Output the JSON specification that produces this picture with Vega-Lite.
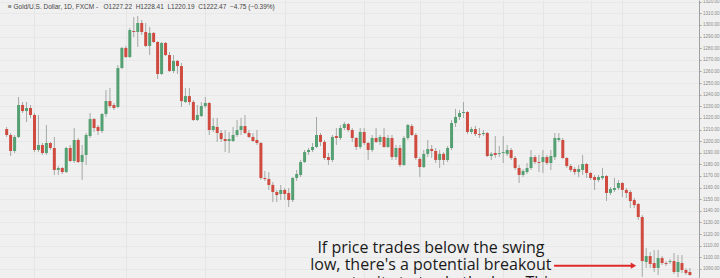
{
 "$schema": "https://vega.github.io/schema/vega-lite/v6.json",
 "width": 699,
 "height": 278,
 "autosize": {"type": "none"},
 "padding": {"left": 0, "top": 0, "right": 21, "bottom": 0},
 "background": "#f0f0f0",
 "config": {"view": {"stroke": null}, "font": "Liberation Sans"},
 "data": {"values": [
{"i":0,"o":1210.4,"h":1212.2,"l":1203.6,"c":1205.3},
{"i":1,"o":1205.3,"h":1207.0,"l":1187.2,"c":1191.5},
{"i":2,"o":1191.5,"h":1205.3,"l":1189.8,"c":1203.6},
{"i":3,"o":1203.6,"h":1238.0,"l":1202.7,"c":1231.1},
{"i":4,"o":1231.1,"h":1233.7,"l":1224.2,"c":1225.9},
{"i":5,"o":1225.9,"h":1233.7,"l":1216.5,"c":1228.5},
{"i":6,"o":1228.5,"h":1231.1,"l":1219.9,"c":1222.5},
{"i":7,"o":1222.5,"h":1224.2,"l":1190.6,"c":1192.4},
{"i":8,"o":1192.4,"h":1222.5,"l":1190.6,"c":1196.7},
{"i":9,"o":1196.7,"h":1198.4,"l":1188.1,"c":1189.8},
{"i":10,"o":1189.8,"h":1213.9,"l":1188.1,"c":1198.4},
{"i":11,"o":1198.4,"h":1199.3,"l":1192.4,"c":1194.1},
{"i":12,"o":1194.1,"h":1203.6,"l":1170.9,"c":1175.2},
{"i":13,"o":1175.2,"h":1178.6,"l":1170.9,"c":1176.9},
{"i":14,"o":1176.9,"h":1177.7,"l":1171.7,"c":1173.4},
{"i":15,"o":1173.4,"h":1195.0,"l":1172.6,"c":1194.1},
{"i":16,"o":1194.1,"h":1196.7,"l":1182.0,"c":1182.9},
{"i":17,"o":1182.9,"h":1211.3,"l":1181.2,"c":1201.0},
{"i":18,"o":1201.0,"h":1202.7,"l":1181.2,"c":1182.0},
{"i":19,"o":1182.0,"h":1196.7,"l":1166.6,"c":1188.1},
{"i":20,"o":1188.1,"h":1207.0,"l":1179.5,"c":1205.3},
{"i":21,"o":1204.4,"h":1224.2,"l":1202.7,"c":1219.0},
{"i":22,"o":1219.0,"h":1219.9,"l":1207.9,"c":1211.3},
{"i":23,"o":1212.2,"h":1213.9,"l":1205.3,"c":1208.7},
{"i":24,"o":1208.7,"h":1224.2,"l":1207.0,"c":1223.3},
{"i":25,"o":1223.3,"h":1244.0,"l":1220.8,"c":1234.5},
{"i":26,"o":1234.5,"h":1245.7,"l":1228.5,"c":1230.2},
{"i":27,"o":1231.1,"h":1232.8,"l":1226.8,"c":1228.5},
{"i":28,"o":1229.4,"h":1265.5,"l":1228.5,"c":1262.9},
{"i":29,"o":1262.9,"h":1281.0,"l":1262.1,"c":1280.2},
{"i":30,"o":1280.2,"h":1281.9,"l":1271.5,"c":1272.4},
{"i":31,"o":1272.4,"h":1297.4,"l":1271.5,"c":1295.6},
{"i":32,"o":1294.8,"h":1306.8,"l":1289.6,"c":1293.9},
{"i":33,"o":1293.9,"h":1307.7,"l":1281.0,"c":1301.7},
{"i":34,"o":1301.7,"h":1304.3,"l":1291.3,"c":1293.9},
{"i":35,"o":1293.9,"h":1301.7,"l":1281.0,"c":1281.9},
{"i":36,"o":1281.9,"h":1298.2,"l":1274.1,"c":1293.1},
{"i":37,"o":1293.1,"h":1293.9,"l":1284.5,"c":1285.3},
{"i":38,"o":1285.3,"h":1286.0,"l":1253.5,"c":1257.8},
{"i":39,"o":1257.8,"h":1285.3,"l":1257.0,"c":1284.5},
{"i":40,"o":1284.5,"h":1285.3,"l":1273.3,"c":1274.1},
{"i":41,"o":1274.1,"h":1276.7,"l":1259.5,"c":1260.4},
{"i":42,"o":1260.4,"h":1274.1,"l":1258.6,"c":1269.0},
{"i":43,"o":1269.0,"h":1269.8,"l":1257.8,"c":1264.6},
{"i":44,"o":1264.6,"h":1267.2,"l":1229.4,"c":1234.5},
{"i":45,"o":1233.7,"h":1245.7,"l":1232.8,"c":1238.8},
{"i":46,"o":1238.8,"h":1245.7,"l":1231.1,"c":1233.7},
{"i":47,"o":1233.7,"h":1235.4,"l":1217.3,"c":1218.2},
{"i":48,"o":1218.2,"h":1231.1,"l":1217.3,"c":1222.5},
{"i":49,"o":1221.6,"h":1233.7,"l":1220.8,"c":1230.2},
{"i":50,"o":1230.2,"h":1238.0,"l":1228.5,"c":1232.8},
{"i":51,"o":1232.8,"h":1233.7,"l":1205.3,"c":1209.6},
{"i":52,"o":1209.6,"h":1219.9,"l":1207.9,"c":1213.0},
{"i":53,"o":1212.2,"h":1219.9,"l":1199.3,"c":1207.0},
{"i":54,"o":1207.0,"h":1209.6,"l":1199.3,"c":1201.8},
{"i":55,"o":1201.8,"h":1209.6,"l":1190.6,"c":1200.1},
{"i":56,"o":1200.1,"h":1207.9,"l":1189.8,"c":1201.8},
{"i":57,"o":1200.1,"h":1212.2,"l":1199.3,"c":1205.3},
{"i":58,"o":1205.3,"h":1218.2,"l":1203.6,"c":1209.6},
{"i":59,"o":1209.6,"h":1219.9,"l":1205.3,"c":1213.0},
{"i":60,"o":1213.0,"h":1222.5,"l":1206.1,"c":1207.0},
{"i":61,"o":1207.0,"h":1209.6,"l":1202.7,"c":1203.6},
{"i":62,"o":1203.6,"h":1207.0,"l":1199.3,"c":1200.1},
{"i":63,"o":1201.0,"h":1209.6,"l":1196.7,"c":1198.4},
{"i":64,"o":1198.4,"h":1199.3,"l":1166.6,"c":1168.3},
{"i":65,"o":1168.3,"h":1174.3,"l":1165.7,"c":1167.4},
{"i":66,"o":1167.4,"h":1173.4,"l":1158.0,"c":1162.3},
{"i":67,"o":1162.3,"h":1164.8,"l":1147.6,"c":1156.2},
{"i":68,"o":1156.2,"h":1158.0,"l":1147.6,"c":1153.6},
{"i":69,"o":1154.5,"h":1162.3,"l":1149.3,"c":1158.0},
{"i":70,"o":1158.0,"h":1159.7,"l":1149.3,"c":1154.5},
{"i":71,"o":1155.4,"h":1159.7,"l":1143.3,"c":1149.3},
{"i":72,"o":1149.3,"h":1169.1,"l":1147.6,"c":1168.3},
{"i":73,"o":1168.3,"h":1175.2,"l":1165.7,"c":1171.7},
{"i":74,"o":1170.9,"h":1183.8,"l":1169.1,"c":1182.0},
{"i":75,"o":1182.0,"h":1192.4,"l":1181.2,"c":1190.6},
{"i":76,"o":1190.6,"h":1194.1,"l":1188.1,"c":1192.4},
{"i":77,"o":1192.4,"h":1198.4,"l":1190.6,"c":1195.0},
{"i":78,"o":1195.0,"h":1220.8,"l":1194.1,"c":1205.3},
{"i":79,"o":1205.3,"h":1207.0,"l":1195.8,"c":1199.3},
{"i":80,"o":1199.3,"h":1201.0,"l":1183.8,"c":1185.5},
{"i":81,"o":1186.3,"h":1189.8,"l":1179.5,"c":1183.8},
{"i":82,"o":1183.8,"h":1205.3,"l":1182.0,"c":1203.6},
{"i":83,"o":1204.4,"h":1211.3,"l":1196.7,"c":1202.7},
{"i":84,"o":1202.7,"h":1213.9,"l":1201.0,"c":1211.3},
{"i":85,"o":1211.3,"h":1216.5,"l":1209.6,"c":1214.7},
{"i":86,"o":1214.7,"h":1215.6,"l":1207.9,"c":1209.6},
{"i":87,"o":1209.6,"h":1211.3,"l":1199.3,"c":1202.7},
{"i":88,"o":1202.7,"h":1203.6,"l":1192.4,"c":1195.0},
{"i":89,"o":1195.0,"h":1211.3,"l":1193.2,"c":1207.9},
{"i":90,"o":1207.9,"h":1211.3,"l":1196.7,"c":1198.4},
{"i":91,"o":1198.4,"h":1199.3,"l":1183.8,"c":1192.4},
{"i":92,"o":1192.4,"h":1205.3,"l":1190.6,"c":1202.7},
{"i":93,"o":1202.7,"h":1211.3,"l":1198.4,"c":1199.3},
{"i":94,"o":1199.3,"h":1205.3,"l":1196.7,"c":1203.6},
{"i":95,"o":1203.6,"h":1211.3,"l":1194.1,"c":1195.0},
{"i":96,"o":1195.0,"h":1205.3,"l":1194.1,"c":1202.7},
{"i":97,"o":1202.7,"h":1205.3,"l":1183.8,"c":1186.3},
{"i":98,"o":1186.3,"h":1196.7,"l":1183.8,"c":1194.1},
{"i":99,"o":1194.1,"h":1196.7,"l":1177.7,"c":1179.5},
{"i":100,"o":1179.5,"h":1204.4,"l":1178.6,"c":1202.7},
{"i":101,"o":1202.7,"h":1214.7,"l":1201.0,"c":1213.9},
{"i":102,"o":1213.0,"h":1214.7,"l":1204.4,"c":1205.3},
{"i":103,"o":1205.3,"h":1207.0,"l":1183.8,"c":1185.5},
{"i":104,"o":1184.6,"h":1186.3,"l":1169.1,"c":1177.7},
{"i":105,"o":1177.7,"h":1192.4,"l":1176.9,"c":1189.0},
{"i":106,"o":1189.0,"h":1201.0,"l":1186.3,"c":1193.2},
{"i":107,"o":1193.2,"h":1196.7,"l":1185.5,"c":1191.5},
{"i":108,"o":1191.5,"h":1194.1,"l":1181.2,"c":1183.8},
{"i":109,"o":1183.8,"h":1192.4,"l":1176.9,"c":1189.0},
{"i":110,"o":1189.0,"h":1190.6,"l":1179.5,"c":1183.8},
{"i":111,"o":1183.8,"h":1195.8,"l":1182.0,"c":1194.1},
{"i":112,"o":1194.1,"h":1218.2,"l":1192.4,"c":1215.6},
{"i":113,"o":1215.6,"h":1227.7,"l":1212.2,"c":1220.8},
{"i":114,"o":1220.8,"h":1226.8,"l":1218.2,"c":1224.2},
{"i":115,"o":1224.2,"h":1233.7,"l":1219.9,"c":1225.1},
{"i":116,"o":1225.1,"h":1225.9,"l":1206.1,"c":1207.9},
{"i":117,"o":1207.9,"h":1212.2,"l":1206.1,"c":1210.4},
{"i":118,"o":1210.4,"h":1213.0,"l":1204.4,"c":1206.1},
{"i":119,"o":1206.1,"h":1211.3,"l":1202.7,"c":1205.3},
{"i":120,"o":1206.1,"h":1209.6,"l":1204.4,"c":1207.0},
{"i":121,"o":1207.0,"h":1207.9,"l":1186.3,"c":1187.2},
{"i":122,"o":1187.2,"h":1190.6,"l":1183.8,"c":1189.0},
{"i":123,"o":1189.8,"h":1204.4,"l":1185.5,"c":1188.1},
{"i":124,"o":1189.0,"h":1195.8,"l":1186.3,"c":1189.8},
{"i":125,"o":1189.8,"h":1204.4,"l":1181.2,"c":1190.6},
{"i":126,"o":1189.0,"h":1196.7,"l":1187.2,"c":1192.4},
{"i":127,"o":1192.4,"h":1194.1,"l":1183.8,"c":1185.5},
{"i":128,"o":1185.5,"h":1187.2,"l":1175.2,"c":1176.9},
{"i":129,"o":1176.9,"h":1179.5,"l":1164.0,"c":1170.9},
{"i":130,"o":1170.9,"h":1176.0,"l":1169.1,"c":1174.3},
{"i":131,"o":1173.4,"h":1181.2,"l":1171.7,"c":1176.9},
{"i":132,"o":1176.9,"h":1192.4,"l":1175.2,"c":1186.3},
{"i":133,"o":1186.3,"h":1188.1,"l":1180.3,"c":1182.0},
{"i":134,"o":1182.0,"h":1188.1,"l":1173.4,"c":1181.2},
{"i":135,"o":1182.0,"h":1192.4,"l":1172.6,"c":1186.3},
{"i":136,"o":1186.3,"h":1188.1,"l":1179.5,"c":1181.2},
{"i":137,"o":1181.2,"h":1192.4,"l":1175.2,"c":1187.2},
{"i":138,"o":1186.3,"h":1207.0,"l":1183.8,"c":1202.7},
{"i":139,"o":1201.0,"h":1207.0,"l":1199.3,"c":1202.7},
{"i":140,"o":1201.0,"h":1202.7,"l":1184.6,"c":1185.5},
{"i":141,"o":1185.5,"h":1186.3,"l":1176.9,"c":1178.6},
{"i":142,"o":1178.6,"h":1180.3,"l":1173.4,"c":1175.2},
{"i":143,"o":1176.0,"h":1177.7,"l":1170.9,"c":1173.4},
{"i":144,"o":1173.4,"h":1179.5,"l":1169.1,"c":1176.0},
{"i":145,"o":1175.2,"h":1188.1,"l":1170.9,"c":1180.3},
{"i":146,"o":1180.3,"h":1181.2,"l":1168.3,"c":1172.6},
{"i":147,"o":1172.6,"h":1173.4,"l":1166.6,"c":1168.3},
{"i":148,"o":1169.1,"h":1170.9,"l":1158.0,"c":1166.6},
{"i":149,"o":1166.6,"h":1170.9,"l":1164.8,"c":1169.1},
{"i":150,"o":1168.3,"h":1176.9,"l":1166.6,"c":1170.0},
{"i":151,"o":1170.0,"h":1170.9,"l":1148.5,"c":1155.4},
{"i":152,"o":1155.4,"h":1160.5,"l":1153.6,"c":1158.8},
{"i":153,"o":1158.0,"h":1168.3,"l":1156.2,"c":1159.7},
{"i":154,"o":1159.7,"h":1166.6,"l":1158.0,"c":1164.0},
{"i":155,"o":1164.0,"h":1164.8,"l":1151.9,"c":1158.0},
{"i":156,"o":1158.0,"h":1159.7,"l":1151.0,"c":1155.4},
{"i":157,"o":1156.2,"h":1158.0,"l":1142.5,"c":1148.5},
{"i":158,"o":1149.3,"h":1151.0,"l":1142.5,"c":1145.0},
{"i":159,"o":1145.9,"h":1146.7,"l":1132.1,"c":1134.7},
{"i":160,"o":1134.7,"h":1136.4,"l":1083.1,"c":1096.8},
{"i":161,"o":1096.0,"h":1108.0,"l":1090.8,"c":1101.1},
{"i":162,"o":1101.1,"h":1104.6,"l":1090.8,"c":1094.3},
{"i":163,"o":1095.1,"h":1106.3,"l":1087.4,"c":1090.8},
{"i":164,"o":1090.8,"h":1106.3,"l":1084.8,"c":1099.4},
{"i":165,"o":1099.4,"h":1101.1,"l":1093.4,"c":1095.1},
{"i":166,"o":1095.1,"h":1096.8,"l":1092.5,"c":1094.3},
{"i":167,"o":1096.0,"h":1098.6,"l":1094.3,"c":1096.8},
{"i":168,"o":1096.8,"h":1103.7,"l":1085.7,"c":1087.4},
{"i":169,"o":1087.4,"h":1102.0,"l":1083.1,"c":1096.0},
{"i":170,"o":1095.1,"h":1102.0,"l":1086.5,"c":1089.1},
{"i":171,"o":1089.1,"h":1090.8,"l":1084.8,"c":1086.5},
{"i":172,"o":1087.4,"h":1090.8,"l":1084.0,"c":1084.8}
 ]},
 "layer": [
  {
   "mark": {"type": "rule", "strokeWidth": 1, "color": "#a3a9a4"},
   "encoding": {
    "x": {"field": "i", "type": "quantitative",
      "scale": {"domain": [-0.42, 173.03], "nice": false, "zero": false},
      "axis": {"values": [7, 30, 50, 70, 90, 104, 115, 125, 135, 147, 155], "tickCount": 40, "labels": false, "ticks": false, "domain": false, "title": null, "grid": true, "gridColor": "#e5e5e5", "gridWidth": 1}},
    "y": {"field": "l", "type": "quantitative",
      "scale": {"domain": [1082.22, 1321.46], "nice": false, "zero": false},
      "axis": {"orient": "right", "values": [1090,1100,1110,1120,1130,1140,1150,1160,1170,1180,1190,1200,1210,1220,1230,1240,1250,1260,1270,1280,1290,1300,1310,1320], "tickCount": 40, "format": ".2f", "labelFontSize": 4.6, "labelColor": "#8a8a8a", "labelOverlap": false, "labelBound": false, "labelFlush": false, "tickSize": 2, "tickColor": "#a0a0a0", "domainColor": "#a0a0a0", "labelPadding": 1.5, "title": null, "grid": true, "gridColor": "#e8e8e8", "gridWidth": 1, "labelFont": "Liberation Sans"}},
    "y2": {"field": "h"}
   }
  },
  {
   "mark": {"type": "bar", "width": 3},
   "encoding": {
    "x": {"field": "i", "type": "quantitative"},
    "y": {"field": "o", "type": "quantitative"},
    "y2": {"field": "c"},
    "color": {"condition": {"test": "datum.o > datum.c", "value": "#cf4a3f"}, "value": "#54a072"}
   }
  },
  {
   "data": {"values": [{}]},
   "mark": {"type": "rule", "color": "#e02a2a", "strokeWidth": 2},
   "encoding": {"x": {"datum": 137.8}, "x2": {"datum": 157.2}, "y": {"datum": 1092.8}}
  },
  {
   "data": {"values": [{}]},
   "mark": {"type": "point", "shape": "triangle-right", "filled": true, "size": 40, "color": "#e02a2a", "opacity": 1},
   "encoding": {"x": {"datum": 157.8}, "y": {"datum": 1092.8}}
  },
  {
   "data": {"values": [{}]},
   "mark": {"type": "text", "align": "center", "baseline": "alphabetic", "fontSize": 16, "font": "Open Sans", "lineHeight": 17.5, "color": "#1a1a1a", "clip": true},
   "encoding": {"x": {"datum": 106.8}, "y": {"datum": 1104.0},
     "text": {"value": ["If price trades below the swing", "low, there's a potential breakout", "opportunity to trade the low. This"]}}
  },
  {
   "data": {"values": [{}]},
   "mark": {"type": "text", "align": "left", "baseline": "alphabetic", "fontSize": 6.5, "color": "#444444", "font": "Liberation Sans"},
   "encoding": {"x": {"datum": 0.32}, "y": {"datum": 1313.7},
     "text": {"value": "≡ Gold/U.S. Dollar, 1D, FXCM -\u00a0\u00a0 O1227.22\u00a0 H1228.41\u00a0 L1220.19\u00a0 C1222.47\u00a0 −4.75 (−0.39%)"}}
  }
 ]
}
